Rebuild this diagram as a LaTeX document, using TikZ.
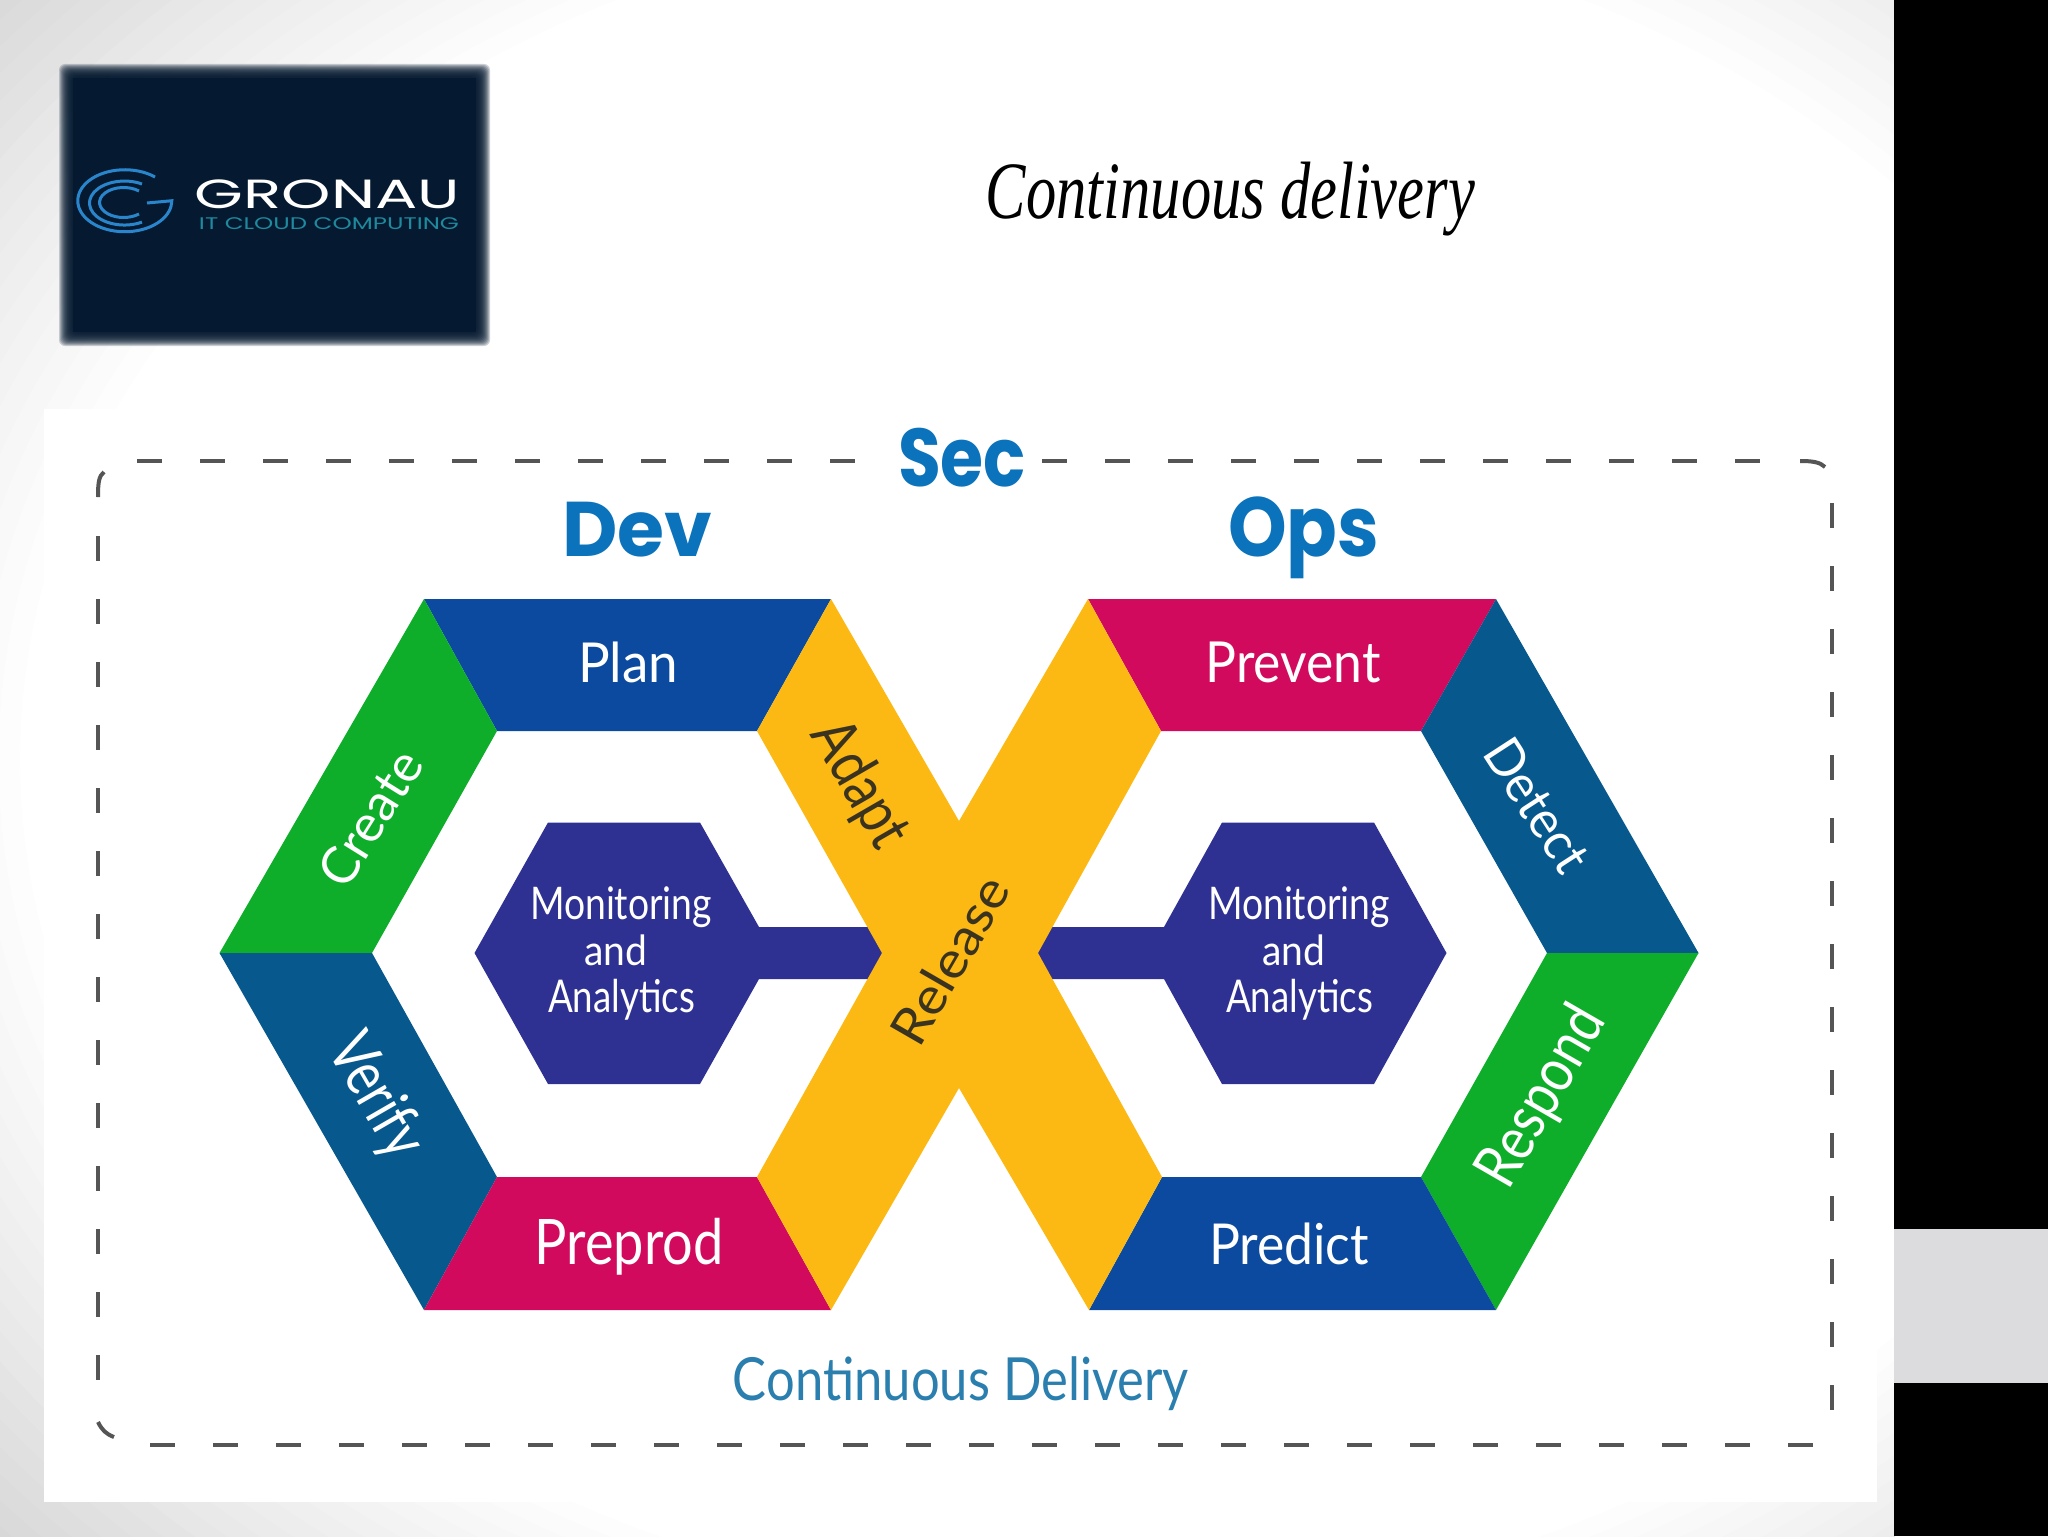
\documentclass[tikz,border=0pt]{standalone}
\usepackage{graphicx}
\usepackage{fontspec}
\setmainfont{Lato}
\newfontfamily\headfont{Poppins}
\newfontfamily\titlefont{Liberation Serif}
\newdimen\pxu \pxu=0.5pt
\newcommand{\fitbox}[3]{\resizebox*{#1\pxu}{#2\pxu}{#3}}
\definecolor{cblue}{HTML}{0B4A9E}
\definecolor{cgreen}{HTML}{0FAE2A}
\definecolor{cteal}{HTML}{07588C}
\definecolor{cpink}{HTML}{D20A5E}
\definecolor{cyellow}{HTML}{FDB913}
\definecolor{cindigo}{HTML}{2E3192}
\definecolor{headblue}{HTML}{0B72BC}
\definecolor{cdtext}{HTML}{2A7FAE}
\definecolor{logobg}{HTML}{051A30}
\definecolor{dashgray}{HTML}{555555}
\definecolor{slidegray}{HTML}{DCDBDE}
\definecolor{bggray}{HTML}{D4D4D4}
\definecolor{ringblue}{HTML}{2A86CC}
\definecolor{logoteal}{HTML}{1F8A9E}
\definecolor{darklabel}{HTML}{3A3320}
\tikzset{
  seg/.style={draw=none,fill=#1},
  lab/.style={inner sep=0pt,outer sep=0pt,text=white},
  dashline/.style={draw=dashgray,line width=2pt,dash pattern=on 12.5pt off 19pt},
  hook/.style={draw=dashgray,line width=2pt},
  ring/.style={draw=ringblue,line width=1.5pt}
}
\begin{document}
\begin{tikzpicture}[x=0.5pt,y=-0.5pt]
\useasboundingbox (0,0) rectangle (2048,1536);
% slide background: light grey corners fading to white
\begin{scope}
\clip (0,0) rectangle (1894,1536);
\fill[bggray] (0,0) rectangle (1894,1536);
\foreach \i in {0,...,21}{
  \pgfmathsetmacro{\rr}{1.42-0.02*\i}
  \pgfmathsetmacro{\pp}{\i/21*100}
  \pgfmathsetmacro{\ax}{1080*\rr}
  \pgfmathsetmacro{\ay}{850*\rr}
  \fill[white!\pp!bggray] (1100,760) ellipse[x radius=\ax,y radius=\ay];
}
\end{scope}
\fill[black] (1894,0) rectangle (2048,1536);
\fill[slidegray] (1894,1229) rectangle (2048,1383);
\fill[white] (44,409) rectangle (1877,1502);
% logo (soft edge)
\foreach \d in {5,4,3,2,1,0,-1,-2,-3,-4,-5,-6,-7,-8}{
  \fill[logobg,opacity=.2,rounded corners=3pt] ({64-\d},{69-\d}) rectangle ({485+\d},{341+\d});
}
\fill[logobg] (73,78) rectangle (476,332);
\draw[ring] (155,177) arc[start angle=-50,end angle=-360,x radius=47,y radius=31] -- (147,203);
\draw[ring] (142,184) arc[start angle=-60,end angle=-300,x radius=35,y radius=22];
\draw[ring] (139,191) arc[start angle=-50,end angle=-310,x radius=24,y radius=15];
\node[lab,font=\headfont,name=logotext] at (327.5,194) {\fitbox{265}{29}{GRONAU}};
\node[lab,font=\headfont,text=logoteal,name=logosub] at (329,224) {\fitbox{260}{12}{IT CLOUD COMPUTING}};
% title
\node[lab,text=black,name=title] at (1230.5,199) {\fitbox{489}{74}{\titlefont\itshape Continuous delivery}};
% dashed frame
\draw[dashline] (137,461) -- (855,461);
\draw[dashline] (1042,461) -- (1790,461);
\draw[hook] (1800,461) .. controls (1812,461) and (1820,462) .. (1825,467);
\draw[hook] (104,472) .. controls (99,476) and (98,482) .. (98,497);
\draw[dashline] (98,536) -- (98,1380);
\draw[hook] (98,1422) .. controls (102,1430) and (106,1434) .. (114,1437);
\draw[dashline] (150,1445) -- (1816,1445);
\draw[dashline] (1832,503) -- (1832,1420);
% headings
\begin{scope}
\clip (880,400) rectangle (1022,520);
\node[lab,text=headblue,font=\headfont\bfseries,name=sec] at (962,457.5) {\fitbox{128}{59}{Sec}};
\end{scope}
\node[lab,text=headblue,font=\headfont\bfseries,name=dev] at (637,530) {\fitbox{150}{55}{Dev}};
\node[lab,text=headblue,font=\headfont\bfseries,name=ops] at (1303.5,538) {\fitbox{151}{82}{Ops}};
\node[lab,text=cdtext,name=cd] at (961,1384) {\fitbox{456}{54}{Continuous Delivery}};
% monitoring hubs
\fill[cindigo] (474.5,953) -- (548,822.5) -- (700,822.5) -- (759,927) -- (900,927) -- (900,979) -- (759,979) -- (700,1084) -- (548,1084) -- cycle;
\fill[cindigo] (1446.5,953) -- (1374,822.5) -- (1222,822.5) -- (1164,927) -- (1020,927) -- (1020,979) -- (1164,979) -- (1222,1084) -- (1374,1084) -- cycle;
% left ring
\fill[seg=cblue] (424,599) -- (831,599) -- (757,731) -- (497,731) -- cycle;
\fill[seg=cgreen] (424,599) -- (497,731) -- (372,953) -- (219.5,953) -- cycle;
\fill[seg=cteal] (219.5,953) -- (372,953) -- (497,1177) -- (424,1310) -- cycle;
\fill[seg=cpink] (497,1177) -- (757,1177) -- (831,1310) -- (424,1310) -- cycle;
% right ring
\fill[seg=cpink] (1088,599) -- (1496,599) -- (1421,731) -- (1161,731) -- cycle;
\fill[seg=cteal] (1496,599) -- (1698.5,953) -- (1547,953) -- (1421,731) -- cycle;
\fill[seg=cgreen] (1547,953) -- (1698.5,953) -- (1496,1310) -- (1421,1177) -- cycle;
\fill[seg=cblue] (1162,1177) -- (1421,1177) -- (1496,1310) -- (1089,1310) -- cycle;
% crossing band
\fill[seg=cyellow] (831,599) -- (959,821) -- (1088,599) -- (1161,731) -- (1038,953) -- (1162,1177) -- (1089,1310) -- (959,1088) -- (831,1310) -- (757,1177) -- (882,953) -- (757,731) -- cycle;
% labels
\node[lab,name=plan] at (628,662.5) {\fitbox{100}{41}{Plan}};
\node[lab,name=prevent] at (1293,662.5) {\fitbox{175}{41}{Prevent}};
\node[lab,name=preprod] at (629,1247) {\fitbox{189}{57}{Preprod}};
\node[lab,name=predict] at (1289,1244) {\fitbox{160}{42}{Predict}};
\node[lab,name=mon1] at (621,907) {\fitbox{182}{41}{Monitoring}};
\node[lab,name=and1] at (615.5,950) {\fitbox{63}{31}{and}};
\node[lab,name=ana1] at (621.5,1000) {\fitbox{147}{41}{Analytics}};
\node[lab,name=mon2] at (1299,907) {\fitbox{182}{41}{Monitoring}};
\node[lab,name=and2] at (1293.5,950) {\fitbox{63}{31}{and}};
\node[lab,name=ana2] at (1299.5,1000) {\fitbox{147}{41}{Analytics}};
\node[lab,rotate=58,name=create] at (370,818) {\fitbox{150}{38}{Create}};
\node[lab,rotate=-60,name=verify] at (375,1097) {\fitbox{130}{58}{Verify}};
\node[lab,rotate=-60,text=darklabel,name=adapt] at (859,785) {\fitbox{136}{56}{Adapt}};
\node[lab,rotate=60,text=darklabel,name=release] at (950,960) {\fitbox{185}{38}{Release}};
\node[lab,rotate=-57,name=detect] at (1537,805) {\fitbox{148}{38}{Detect}};
\node[lab,rotate=60,name=respond] at (1543,1097) {\fitbox{197}{56}{Respond}};
\end{tikzpicture}
\end{document}
